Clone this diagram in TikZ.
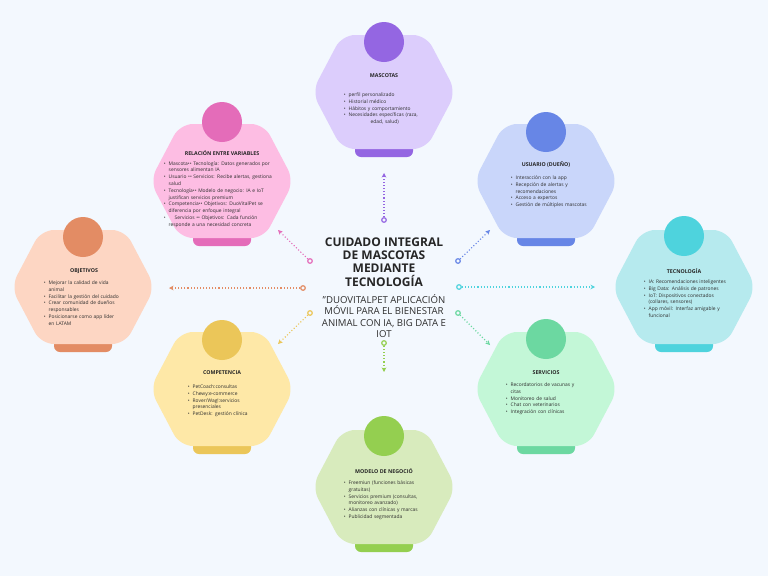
\documentclass[tikz,border=0pt]{standalone}
\usepackage{fontspec}
\setmainfont{Open Sans}
\usepackage{xcolor}
\usepackage{enumitem}
\usetikzlibrary{arrows.meta}

\definecolor{bg}{HTML}{F3F8FE}
\definecolor{Lmasc}{HTML}{DCCDFC}\definecolor{Dmasc}{HTML}{9466E2}
\definecolor{Lrel}{HTML}{FDBDE3}\definecolor{Drel}{HTML}{E46CB9}
\definecolor{Lusu}{HTML}{C9D6FA}\definecolor{Dusu}{HTML}{6786E6}
\definecolor{Lobj}{HTML}{FDD6C3}\definecolor{Dobj}{HTML}{E38C64}
\definecolor{Ltec}{HTML}{B6EAEE}\definecolor{Dtec}{HTML}{4ED3DD}
\definecolor{Lcomp}{HTML}{FEE8A7}\definecolor{Dcomp}{HTML}{EBC659}
\definecolor{Lserv}{HTML}{C3F7D7}\definecolor{Dserv}{HTML}{6CD8A1}
\definecolor{Lmod}{HTML}{D8EBBD}\definecolor{Dmod}{HTML}{94CF50}
\definecolor{ink}{HTML}{2E2E2E}
\setlist[itemize]{label=\textbullet,leftmargin=6.5pt,labelsep=3pt,nosep}

\begin{document}
\begin{tikzpicture}[x=1pt,y=-1pt,
  hexa/.style={rounded corners=13pt},
  tab/.style={rounded corners=6pt},
  head/.style={inner sep=0pt,text=black!85,font=\bfseries\fontsize{5.3}{6}\selectfont},
  items/.style={anchor=north west,inner sep=0pt,align=left,text=ink,font=\fontsize{4.9}{6.8}\selectfont},
  dot/.style={circle,draw=#1,fill=bg,line width=1.2pt,inner sep=0pt,minimum size=4.6pt},
  link/.style={dotted,line width=1.1pt,-{Stealth[length=4.5pt,width=4.5pt]}}]
  \fill[bg] (0,0) rectangle (768,576);
  \useasboundingbox (0,0) rectangle (768,576);

  % hexagons, top circles and bottom tabs
  \foreach \cx/\cy/\cc/\k in {384/92/42/masc, 222/181/122/rel, 546/181/132/usu, 83/287/237/obj,
                              684/287/236/tec, 222/389/340/comp, 546/389/339/serv, 384/487/436/mod}{
    \fill[fill=D\k,tab] (\cx-29,\cy+40) rectangle (\cx+29,\cy+65);
    \fill[fill=L\k,hexa] (\cx-72,\cy) -- (\cx-42,\cy-57) -- (\cx+42,\cy-57) -- (\cx+72,\cy)
      -- (\cx+42,\cy+57) -- (\cx-42,\cy+57) -- cycle;
    \fill[fill=D\k] (\cx,\cc) circle (20pt);
  }

  % centre
  \node[align=center,inner sep=0pt,text=black!85,font=\bfseries\fontsize{12}{13.3}\selectfont] (title) at (384,262)
    {CUIDADO INTEGRAL\\DE MASCOTAS\\MEDIANTE\\TECNOLOGÍA};
  \node[align=center,inner sep=0pt,text=ink,font=\fontsize{9.6}{11.4}\selectfont] (sub) at (384,316)
    {"DUOVITALPET APLICACIÓN\\MÓVIL PARA EL BIENESTAR\\ANIMAL CON IA, BIG DATA E\\IOT};

  % topics
  \node[head] (mascT) at (384,76) {MASCOTAS};
  \node[items,text width=100pt] (mascL) at (342,89.5) {\begin{itemize}
    \item perfil personalizado
    \item Historial médico
    \item Hábitos y comportamiento
    \item Necesidades específicas (raza,\newline\hspace*{22pt}edad, salud)
  \end{itemize}};

  \node[head] (relT) at (222,153) {RELACIÓN ENTRE VARIABLES};
  \node[items,text width=125pt] (relL) at (162,158) {\begin{itemize}
    \item Mascota•• Tecnología: Datos generados por\newline sensores alimentan IA
    \item Usuario •• Servicios: Recibe alertas, gestiona\newline salud
    \item Tecnología•• Modelo de negocio: IA e IoT\newline justifican servicios premium
    \item Competencia•• Objetivos: DuoVitalPet se\newline diferencia por enfoque integral
    \item \hspace*{6pt}Servicios •• Objetivos: Cada función\newline responde a una necesidad concreta
  \end{itemize}};

  \node[head] (usuT) at (546,164) {USUARIO (DUEÑO)};
  \node[items,text width=100pt] (usuL) at (509,172.5) {\begin{itemize}
    \item Interacción con la app
    \item Recepción de alertas y\newline recomendaciones
    \item Acceso a expertos
    \item Gestión de múltiples mascotas
  \end{itemize}};

  \node[head] (objT) at (84,271) {OBJETIVOS};
  \node[items,text width=90pt] (objL) at (42,277.5) {\begin{itemize}
    \item Mejorar la calidad de vida\newline animal
    \item Facilitar la gestión del cuidado
    \item Crear comunidad de dueños\newline responsables
    \item Posicionarse como app líder\newline en LATAM
  \end{itemize}};

  \node[head] (tecT) at (684,271) {TECNOLOGÍA};
  \node[items,text width=100pt] (tecL) at (642,276.5) {\begin{itemize}
    \item IA: Recomendaciones inteligentes
    \item Big Data: Análisis de patrones
    \item IoT: Dispositivos conectados\newline (collares, sensores)
    \item App móvil: Interfaz amigable y\newline funcional
  \end{itemize}};

  \node[head] (compT) at (222,373) {COMPETENCIA};
  \node[items,text width=90pt] (compL) at (186,381.5) {\begin{itemize}
    \item PetCoach:consultas
    \item Chewy:e-commerce
    \item Rover/Wag!:servicios\newline presenciales
    \item PetDesk: gestión clínica
  \end{itemize}};

  \node[head] (servT) at (546,373) {SERVICIOS};
  \node[items,text width=90pt] (servL) at (504,379.5) {\begin{itemize}
    \item Recordatorios de vacunas y\newline citas
    \item Monitoreo de salud
    \item Chat con veterinarios
    \item Integración con clínicas
  \end{itemize}};

  \node[head] (modT) at (384,471) {MODELO DE NEGOCIÓ};
  \node[items,text width=95pt] (modL) at (342,477.5) {\begin{itemize}
    \item Freemiun (funciones básicas\newline gratuitas)
    \item Servicios premium (consultas,\newline monitoreo avanzado)
    \item Alianzas con clínicas y marcas
    \item Publicidad segmentada
  \end{itemize}};

  % connectors
  \node[dot=Dmasc] (u0) at (384,220) {};  \coordinate (u1) at (384,173);
  \node[dot=Drel] (ul0) at (310,261) {};  \coordinate (ul1) at (278,230);
  \node[dot=Dusu] (ur0) at (458,261) {};  \coordinate (ur1) at (490,230);
  \node[dot=Dobj] (l0) at (303,288) {};   \coordinate (l1) at (169,288);
  \node[dot=Dtec] (r0) at (459,287) {};   \coordinate (r1) at (595,287);
  \node[dot=Dcomp] (ll0) at (310,313) {}; \coordinate (ll1) at (278,344);
  \node[dot=Dserv] (lr0) at (458,313) {}; \coordinate (lr1) at (490,345);
  \node[dot=Dmod] (d0) at (384,343) {};   \coordinate (d1) at (384,372);
  \draw[link,Dmasc] (u0) -- (u1);
  \draw[link,Drel] (ul0) -- (ul1);
  \draw[link,Dusu] (ur0) -- (ur1);
  \draw[link,Dobj] (l0) -- (l1);
  \draw[link,Dtec] (r0) -- (r1);
  \draw[link,Dcomp] (ll0) -- (ll1);
  \draw[link,Dserv] (lr0) -- (lr1);
  \draw[link,Dmod] (d0) -- (d1);
\end{tikzpicture}
\end{document}
